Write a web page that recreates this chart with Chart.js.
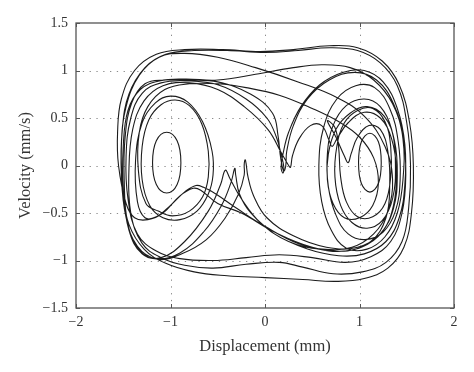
<!DOCTYPE html>
<html lang="en">
<head>
<meta charset="UTF-8">
<title>Phase portrait</title>
<script src="https://cdn.jsdelivr.net/npm/chart.js@4"></script>
<style>
  body { margin: 0; background: #fff; }
</style>
</head>
<body>
<canvas id="chart" width="474" height="372"></canvas>
<script>
const xTicks = [-2, -1, 0, 1, 2];
const yTicks = [-1.5, -1, -0.5, 0, 0.5, 1, 1.5];

// trajectory pieces, [displacement, velocity]
// each lap starts where the previous one ends, the last one returns to the start
const lap1 = [[-1.47,-0.40],[-1.55,0.00],[-1.56,0.35],[-1.52,0.70],[-1.38,1.00],[-1.15,1.17],[-0.85,1.22],[-0.45,1.22],[-0.05,1.20],[0.30,1.22],[0.68,1.26],[0.98,1.24],[1.24,1.10],[1.42,0.85],[1.53,0.45],[1.57,0.00],[1.55,-0.50],[1.47,-0.86],[1.30,-1.08],[1.05,-1.19],[0.75,-1.22],[0.40,-1.20],[0.00,-1.18],[-0.40,-1.16],[-0.75,-1.12],[-1.05,-1.03],[-1.28,-0.88],[-1.44,-0.62],[-1.50,-0.30]];
const lap2 = [[-1.50,-0.30],[-1.52,0.20],[-1.47,0.62],[-1.33,0.95],[-1.12,1.14],[-0.85,1.18],[-0.50,1.14],[-0.10,1.03],[0.35,0.88],[0.75,0.72],[1.05,0.52],[1.27,0.20],[1.35,-0.15],[1.30,-0.48],[1.15,-0.72],[0.92,-0.86],[0.60,-0.88],[0.25,-0.80],[-0.05,-0.60],[-0.25,-0.35],[-0.37,-0.14],[-0.42,-0.05],[-0.47,-0.20],[-0.60,-0.48],[-0.85,-0.80],[-1.10,-0.97],[-1.30,-0.93],[-1.44,-0.68]];
const lap3 = [[-1.44,-0.68],[-1.50,-0.25],[-1.50,0.20],[-1.45,0.58],[-1.32,0.80],[-1.12,0.89],[-0.85,0.91],[-0.50,0.90],[-0.10,0.96],[0.30,1.03],[0.60,1.06],[0.90,1.03],[1.15,0.90],[1.35,0.65],[1.46,0.30],[1.49,-0.10],[1.45,-0.50],[1.33,-0.80],[1.12,-0.96],[0.85,-1.02],[0.50,-0.97],[0.15,-0.94],[-0.20,-0.97],[-0.55,-1.00],[-0.90,-0.98],[-1.15,-0.90],[-1.35,-0.72]];
const lap4 = [[-1.35,-0.72],[-1.45,-0.35],[-1.47,0.10],[-1.42,0.50],[-1.30,0.76],[-1.10,0.87],[-0.82,0.89],[-0.50,0.85],[-0.20,0.70],[0.02,0.50],[0.12,0.30],[0.17,0.12],[0.20,-0.02],[0.19,-0.08],[0.17,-0.02],[0.19,0.12],[0.25,0.35],[0.38,0.62],[0.58,0.85],[0.82,0.98],[1.05,1.00],[1.25,0.88],[1.40,0.60],[1.48,0.22],[1.48,-0.20],[1.42,-0.55],[1.28,-0.80],[1.05,-0.93],[0.78,-0.95],[0.45,-0.88],[0.10,-0.72],[-0.15,-0.50],[-0.27,-0.30],[-0.31,-0.10],[-0.32,-0.03],[-0.36,-0.18],[-0.46,-0.42],[-0.65,-0.70],[-0.90,-0.92],[-1.15,-0.98],[-1.35,-0.85],[-1.47,-0.55]];
const lap5 = [[-1.47,-0.55],[-1.52,-0.10],[-1.51,0.38],[-1.44,0.75],[-1.27,1.03],[-1.05,1.17],[-0.75,1.21],[-0.40,1.21],[0.00,1.19],[0.35,1.21],[0.68,1.24],[0.98,1.21],[1.22,1.08],[1.40,0.84],[1.50,0.45],[1.54,0.00],[1.52,-0.45],[1.45,-0.80],[1.28,-1.02],[1.03,-1.12],[0.72,-1.14],[0.40,-1.07],[0.15,-1.02],[-0.20,-1.04],[-0.55,-1.08],[-0.85,-1.05],[-1.10,-0.97],[-1.30,-0.82]];
const lap6 = [[-1.30,-0.82],[-1.42,-0.50],[-1.44,-0.05],[-1.40,0.38],[-1.28,0.68],[-1.08,0.84],[-0.80,0.87],[-0.50,0.80],[-0.22,0.62],[0.03,0.38],[0.18,0.12],[0.25,0.00],[0.27,-0.02],[0.29,0.10],[0.36,0.28],[0.48,0.42],[0.60,0.42],[0.68,0.26],[0.71,0.20],[0.76,0.28],[0.88,0.45],[1.05,0.56],[1.22,0.50],[1.34,0.28],[1.39,-0.05],[1.36,-0.42],[1.24,-0.70],[1.02,-0.86],[0.72,-0.90],[0.35,-0.82],[0.00,-0.64],[-0.30,-0.45],[-0.52,-0.30],[-0.65,-0.23],[-0.73,-0.21],[-0.84,-0.27],[-1.00,-0.42],[-1.15,-0.54],[-1.27,-0.55],[-1.35,-0.38]];
const lap7 = [[-1.35,-0.38],[-1.37,0.05],[-1.30,0.45],[-1.16,0.66],[-1.00,0.73],[-0.82,0.67],[-0.66,0.46],[-0.56,0.15],[-0.55,-0.10],[-0.60,-0.30],[-0.72,-0.48],[-0.90,-0.57],[-1.08,-0.55],[-1.22,-0.42],[-1.30,-0.15],[-1.30,0.20],[-1.23,0.48],[-1.10,0.64],[-0.95,0.69],[-0.80,0.63],[-0.67,0.44],[-0.60,0.15],[-0.60,-0.12],[-0.66,-0.33],[-0.80,-0.48],[-0.98,-0.53],[-1.13,-0.48],[-1.26,-0.40]];
const lap8 = [[-1.26,-0.40],[-1.34,-0.05],[-1.33,0.35],[-1.24,0.62],[-1.06,0.80],[-0.80,0.86],[-0.50,0.86],[-0.20,0.82],[0.15,0.74],[0.50,0.60],[0.80,0.45],[1.00,0.30],[1.15,0.08],[1.20,-0.18],[1.14,-0.42],[1.00,-0.55],[0.84,-0.55],[0.72,-0.40],[0.66,-0.15],[0.67,0.12],[0.75,0.38],[0.90,0.55],[1.08,0.62],[1.26,0.52],[1.37,0.26],[1.40,-0.10],[1.36,-0.45],[1.22,-0.72],[0.98,-0.86],[0.65,-0.86],[0.30,-0.74],[0.02,-0.55],[-0.12,-0.32],[-0.18,-0.12],[-0.20,0.02],[-0.21,0.06],[-0.22,0.01],[-0.22,-0.10],[-0.28,-0.30],[-0.42,-0.55],[-0.62,-0.78],[-0.88,-0.93],[-1.12,-0.99],[-1.32,-0.90],[-1.45,-0.62]];
const lap9 = [[-1.45,-0.62],[-1.49,-0.15],[-1.48,0.30],[-1.41,0.66],[-1.27,0.86],[-1.06,0.90],[-0.80,0.90],[-0.50,0.88],[-0.15,0.75],[0.08,0.55],[0.14,0.30],[0.16,0.12],[0.18,0.00],[0.20,-0.06],[0.22,0.00],[0.23,0.15],[0.30,0.42],[0.45,0.70],[0.68,0.90],[0.95,0.98],[1.18,0.90],[1.36,0.65],[1.46,0.28],[1.46,-0.15],[1.40,-0.50],[1.27,-0.75],[1.08,-0.88],[0.86,-0.87],[0.70,-0.68],[0.60,-0.38],[0.57,0.00],[0.62,0.40],[0.76,0.70],[0.96,0.84],[1.16,0.82],[1.32,0.60],[1.41,0.25],[1.43,-0.15],[1.38,-0.48],[1.25,-0.70],[1.06,-0.78],[0.88,-0.72],[0.75,-0.52],[0.67,-0.22],[0.66,0.12],[0.72,0.42],[0.86,0.63],[1.05,0.70],[1.22,0.62],[1.34,0.38],[1.38,0.02],[1.35,-0.35],[1.24,-0.58],[1.08,-0.66],[0.92,-0.60],[0.80,-0.42],[0.74,-0.12],[0.76,0.20],[0.84,0.45],[0.98,0.58],[1.14,0.60],[1.27,0.46],[1.33,0.20],[1.33,-0.12],[1.27,-0.40],[1.14,-0.54],[0.98,-0.54],[0.86,-0.38],[0.80,-0.12],[0.78,0.18],[0.74,0.40],[0.66,0.47],[0.75,0.30],[0.84,0.10],[0.88,0.03],[0.91,0.12],[0.98,0.30],[1.10,0.42],[1.22,0.38],[1.30,0.15],[1.32,-0.20],[1.28,-0.55],[1.12,-0.80],[0.85,-0.90],[0.50,-0.86],[0.10,-0.70],[-0.25,-0.50],[-0.50,-0.40],[-0.68,-0.26],[-0.76,-0.24],[-0.90,-0.32],[-1.08,-0.50],[-1.24,-0.57],[-1.38,-0.55],[-1.47,-0.40]];
// closed inner orbits (first point repeated at the end)
const innerLeft = [[-1.04,0.35],[-0.93,0.26],[-0.89,0.03],[-0.93,-0.20],[-1.04,-0.29],[-1.15,-0.20],[-1.19,0.03],[-1.15,0.26],[-1.04,0.35]];
const innerRight = [[1.11,0.34],[1.20,0.25],[1.23,0.03],[1.20,-0.19],[1.11,-0.28],[1.02,-0.19],[0.99,0.03],[1.02,0.25],[1.11,0.34]];

const laps = [lap1, lap2, lap3, lap4, lap5, lap6, lap7, lap8, lap9];
const trajectory = laps.reduce((acc, p) => acc.concat(acc.length ? p.slice(1) : p), []);
// pad a closed orbit so the spline is smooth where it joins, then hide the pads
const ring = p => [p[p.length - 2], ...p, p[1]];

const serif = "'Liberation Serif', 'DejaVu Serif', serif";
const fmt = v => v < 0 ? '\u2212' + Math.abs(v) : String(v);
const lineColor = '#1c1c1c';

function curve(points) {
  const pts = ring(points);
  const last = pts.length - 2;
  return {
    data: pts.map(([x, y]) => ({x, y})),
    showLine: true,
    tension: 0.4,
    borderColor: lineColor,
    borderWidth: 1.1,
    pointRadius: 0,
    fill: false,
    segment: {
      borderColor: c => (c.p0DataIndex === 0 || c.p0DataIndex === last) ? 'rgba(0,0,0,0)' : lineColor
    }
  };
}

const frame = {
  id: 'frame',
  beforeDatasetsDraw(chart) {
    const {ctx, chartArea: a, scales: {x, y}} = chart;
    ctx.save();
    ctx.strokeStyle = '#8c8c8c';
    ctx.lineWidth = 1;
    ctx.setLineDash([1.3, 5.5]);
    xTicks.slice(1, -1).forEach(v => {
      const px = Math.round(x.getPixelForValue(v)) + 0.5;
      ctx.beginPath(); ctx.moveTo(px, a.bottom); ctx.lineTo(px, a.top); ctx.stroke();
    });
    yTicks.slice(1, -1).forEach(v => {
      const py = Math.round(y.getPixelForValue(v)) + 0.5;
      ctx.beginPath(); ctx.moveTo(a.left, py); ctx.lineTo(a.right, py); ctx.stroke();
    });
    ctx.restore();
  },
  afterDatasetsDraw(chart) {
    const {ctx, chartArea: a, scales: {x, y}} = chart;
    ctx.save();
    ctx.strokeStyle = '#555';
    ctx.lineWidth = 1.3;
    ctx.strokeRect(a.left, a.top, a.right - a.left, a.bottom - a.top);
    ctx.lineWidth = 1;
    xTicks.forEach(v => {
      const px = Math.round(x.getPixelForValue(v)) + 0.5;
      ctx.beginPath();
      ctx.moveTo(px, a.bottom); ctx.lineTo(px, a.bottom - 4);
      ctx.moveTo(px, a.top); ctx.lineTo(px, a.top + 4);
      ctx.stroke();
    });
    yTicks.forEach(v => {
      const py = Math.round(y.getPixelForValue(v)) + 0.5;
      ctx.beginPath();
      ctx.moveTo(a.left, py); ctx.lineTo(a.left + 4, py);
      ctx.moveTo(a.right, py); ctx.lineTo(a.right - 4, py);
      ctx.stroke();
    });
    ctx.restore();
  }
};

new Chart(document.getElementById('chart'), {
  type: 'scatter',
  data: {
    datasets: [curve(trajectory), curve(innerLeft), curve(innerRight)]
  },
  options: {
    responsive: false,
    animation: false,
    devicePixelRatio: 1,
    layout: {padding: {top: 23, right: 20, left: 0, bottom: 0}},
    plugins: {legend: {display: false}, tooltip: {enabled: false}},
    scales: {
      x: {
        min: -2, max: 2,
        afterBuildTicks: s => { s.ticks = xTicks.map(v => ({value: v})); },
        afterFit: s => { s.height = 64; },
        grid: {display: false, drawTicks: false},
        border: {display: false},
        ticks: {callback: fmt, color: '#333', padding: 6, font: {family: serif, size: 14}, maxRotation: 0},
        title: {display: true, text: 'Displacement (mm)', color: '#333', font: {family: serif, size: 16.5}, padding: {top: 0, bottom: 15}}
      },
      y: {
        min: -1.5, max: 1.5,
        afterBuildTicks: s => { s.ticks = yTicks.map(v => ({value: v})); },
        afterFit: s => { s.width = 76; },
        grid: {display: false, drawTicks: false},
        border: {display: false},
        ticks: {callback: fmt, color: '#333', padding: 8, font: {family: serif, size: 14}},
        title: {display: true, text: 'Velocity (mm/s)', color: '#333', font: {family: serif, size: 16.5}, padding: {top: 16, bottom: 0}}
      }
    }
  },
  plugins: [frame]
});
</script>
</body>
</html>
